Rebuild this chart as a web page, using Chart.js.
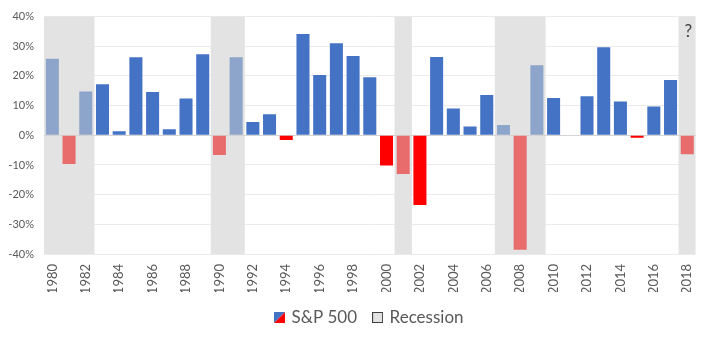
<!DOCTYPE html>
<html>
<head>
<meta charset="utf-8">
<script src="https://cdn.jsdelivr.net/npm/chart.js@4/dist/chart.umd.min.js"></script>
<style>
  html, body { margin: 0; padding: 0; background: #fff; }
  #wrap { width: 713px; height: 341px; }
</style>
</head>
<body>
<div id="wrap"><canvas id="spChart" width="713" height="341"></canvas></div>
<script>
const years = ["1980","1981","1982","1983","1984","1985","1986","1987","1988","1989",
  "1990","1991","1992","1993","1994","1995","1996","1997","1998","1999",
  "2000","2001","2002","2003","2004","2005","2006","2007","2008","2009",
  "2010","2011","2012","2013","2014","2015","2016","2017","2018"];

const spReturns = [25.8, -9.7, 14.8, 17.2, 1.4, 26.3, 14.6, 2.0, 12.4, 27.3,
  -6.6, 26.3, 4.5, 7.1, -1.6, 34.1, 20.3, 31.0, 26.7, 19.6,
  -10.2, -13.0, -23.5, 26.4, 9.0, 3.0, 13.6, 3.5, -38.6, 23.6,
  12.6, 0.0, 13.2, 29.7, 11.4, -0.8, 9.7, 18.6, -6.4];

const recessionYears = ["1980","1981","1982","1990","1991","2001","2007","2008","2009","2018"];

const yTicks = [40, 30, 20, 10, 0, -10, -20, -30, -40];

// colours
const BLUE = "#4472C4", BLUE_LIGHT = "#8EA5CB";
const RED = "#FF0000", RED_LIGHT = "#E96C6C";
const SHADE = "#E3E3E3";
const TXT = "#595959";

const inRecession = years.map(y => recessionYears.includes(y));
const barColors = spReturns.map((v, i) => {
  if (v >= 0) return inRecession[i] ? BLUE_LIGHT : BLUE;
  return inRecession[i] ? RED_LIGHT : RED;
});
const shadeData = inRecession.map(r => r ? [yTicks[yTicks.length - 1], yTicks[0]] : null);

// legend icons
function makeIcon(kind) {
  const c = document.createElement("canvas");
  c.width = 11; c.height = 11;
  const g = c.getContext("2d");
  if (kind === "sp") {
    g.fillStyle = BLUE;
    g.beginPath(); g.moveTo(0, 0); g.lineTo(11, 0); g.lineTo(0, 11); g.closePath(); g.fill();
    g.fillStyle = RED;
    g.beginPath(); g.moveTo(11, 0); g.lineTo(11, 11); g.lineTo(0, 11); g.closePath(); g.fill();
  } else {
    g.fillStyle = SHADE;
    g.fillRect(0, 0, 11, 11);
    g.strokeStyle = "#404040";
    g.lineWidth = 1;
    g.strokeRect(0.5, 0.5, 10, 10);
  }
  return c;
}
const spIcon = makeIcon("sp");
const recIcon = makeIcon("rec");

// zero line between shading and bars, the "?" note, legend centred on plot area
const extras = {
  id: "extras",
  afterLayout(chart) {
    const lg = chart.legend, ca = chart.chartArea;
    const shift = (ca.left + ca.right) / 2 - (lg.left + lg.right) / 2;
    lg.left += shift;
    lg.right += shift;
  },
  beforeDatasetDraw(chart, args) {
    if (args.index !== 0) return;
    const { ctx, chartArea, scales } = chart;
    const y0 = Math.round(scales.y.getPixelForValue(0)) + 0.5;
    ctx.save();
    ctx.strokeStyle = "#D4D4D4";
    ctx.lineWidth = 1;
    ctx.beginPath();
    ctx.moveTo(chartArea.left, y0);
    ctx.lineTo(chartArea.right, y0);
    ctx.stroke();
    ctx.restore();
  },
  afterDatasetsDraw(chart) {
    const { ctx, scales } = chart;
    const x = scales.x.getPixelForValue(years.length - 1);
    const y = scales.y.getPixelForValue(35);
    ctx.save();
    ctx.font = "17px Lato";
    ctx.fillStyle = "#404040";
    ctx.textAlign = "center";
    ctx.textBaseline = "middle";
    ctx.fillText("?", x + 1, y);
    ctx.restore();
  }
};

new Chart(document.getElementById("spChart").getContext("2d"), {
  type: "bar",
  data: {
    labels: years,
    datasets: [
      {
        label: "S&P 500",
        data: spReturns,
        backgroundColor: barColors,
        borderWidth: 0,
        barPercentage: 0.78,
        categoryPercentage: 1,
        order: 0
      },
      {
        label: "Recession",
        data: shadeData,
        backgroundColor: SHADE,
        borderWidth: 0,
        barPercentage: 1,
        categoryPercentage: 1,
        order: 1
      }
    ]
  },
  options: {
    responsive: false,
    animation: false,
    layout: { padding: { left: 4, right: 12, top: 10, bottom: 5 } },
    datasets: { bar: { grouped: false } },
    scales: {
      x: {
        grid: { display: false, drawTicks: false },
        border: { display: false },
        ticks: {
          autoSkip: false,
          maxRotation: 90,
          minRotation: 90,
          padding: 10,
          color: TXT,
          font: { family: "Lato", size: 13 },
          callback: function (val, i) { return i % 2 === 0 ? this.getLabelForValue(val) : ""; }
        },
        afterFit: s => { s.height = 38; }
      },
      y: {
        min: -40,
        max: 40,
        grid: {
          color: "#EBEBEB",
          drawTicks: false
        },
        border: { display: false },
        afterBuildTicks: s => { s.ticks = yTicks.map(v => ({ value: v })); },
        ticks: {
          padding: 10,
          color: TXT,
          font: { family: "Lato", size: 11 },
          callback: v => v + "%"
        },
        afterFit: s => { s.width = 40; }
      }
    },
    plugins: {
      tooltip: { enabled: false },
      legend: {
        position: "bottom",
        labels: {
          usePointStyle: true,
          boxWidth: 7,
          boxHeight: 11,
          padding: 17,
          color: TXT,
          font: { family: "Lato", size: 17 },
          generateLabels: () => [
            { text: "S&P 500", pointStyle: spIcon, fillStyle: BLUE, lineWidth: 0, datasetIndex: 0, fontColor: TXT },
            { text: "Recession", pointStyle: recIcon, fillStyle: SHADE, lineWidth: 0, datasetIndex: 1, fontColor: TXT }
          ]
        }
      }
    }
  },
  plugins: [extras]
});
</script>
</body>
</html>
